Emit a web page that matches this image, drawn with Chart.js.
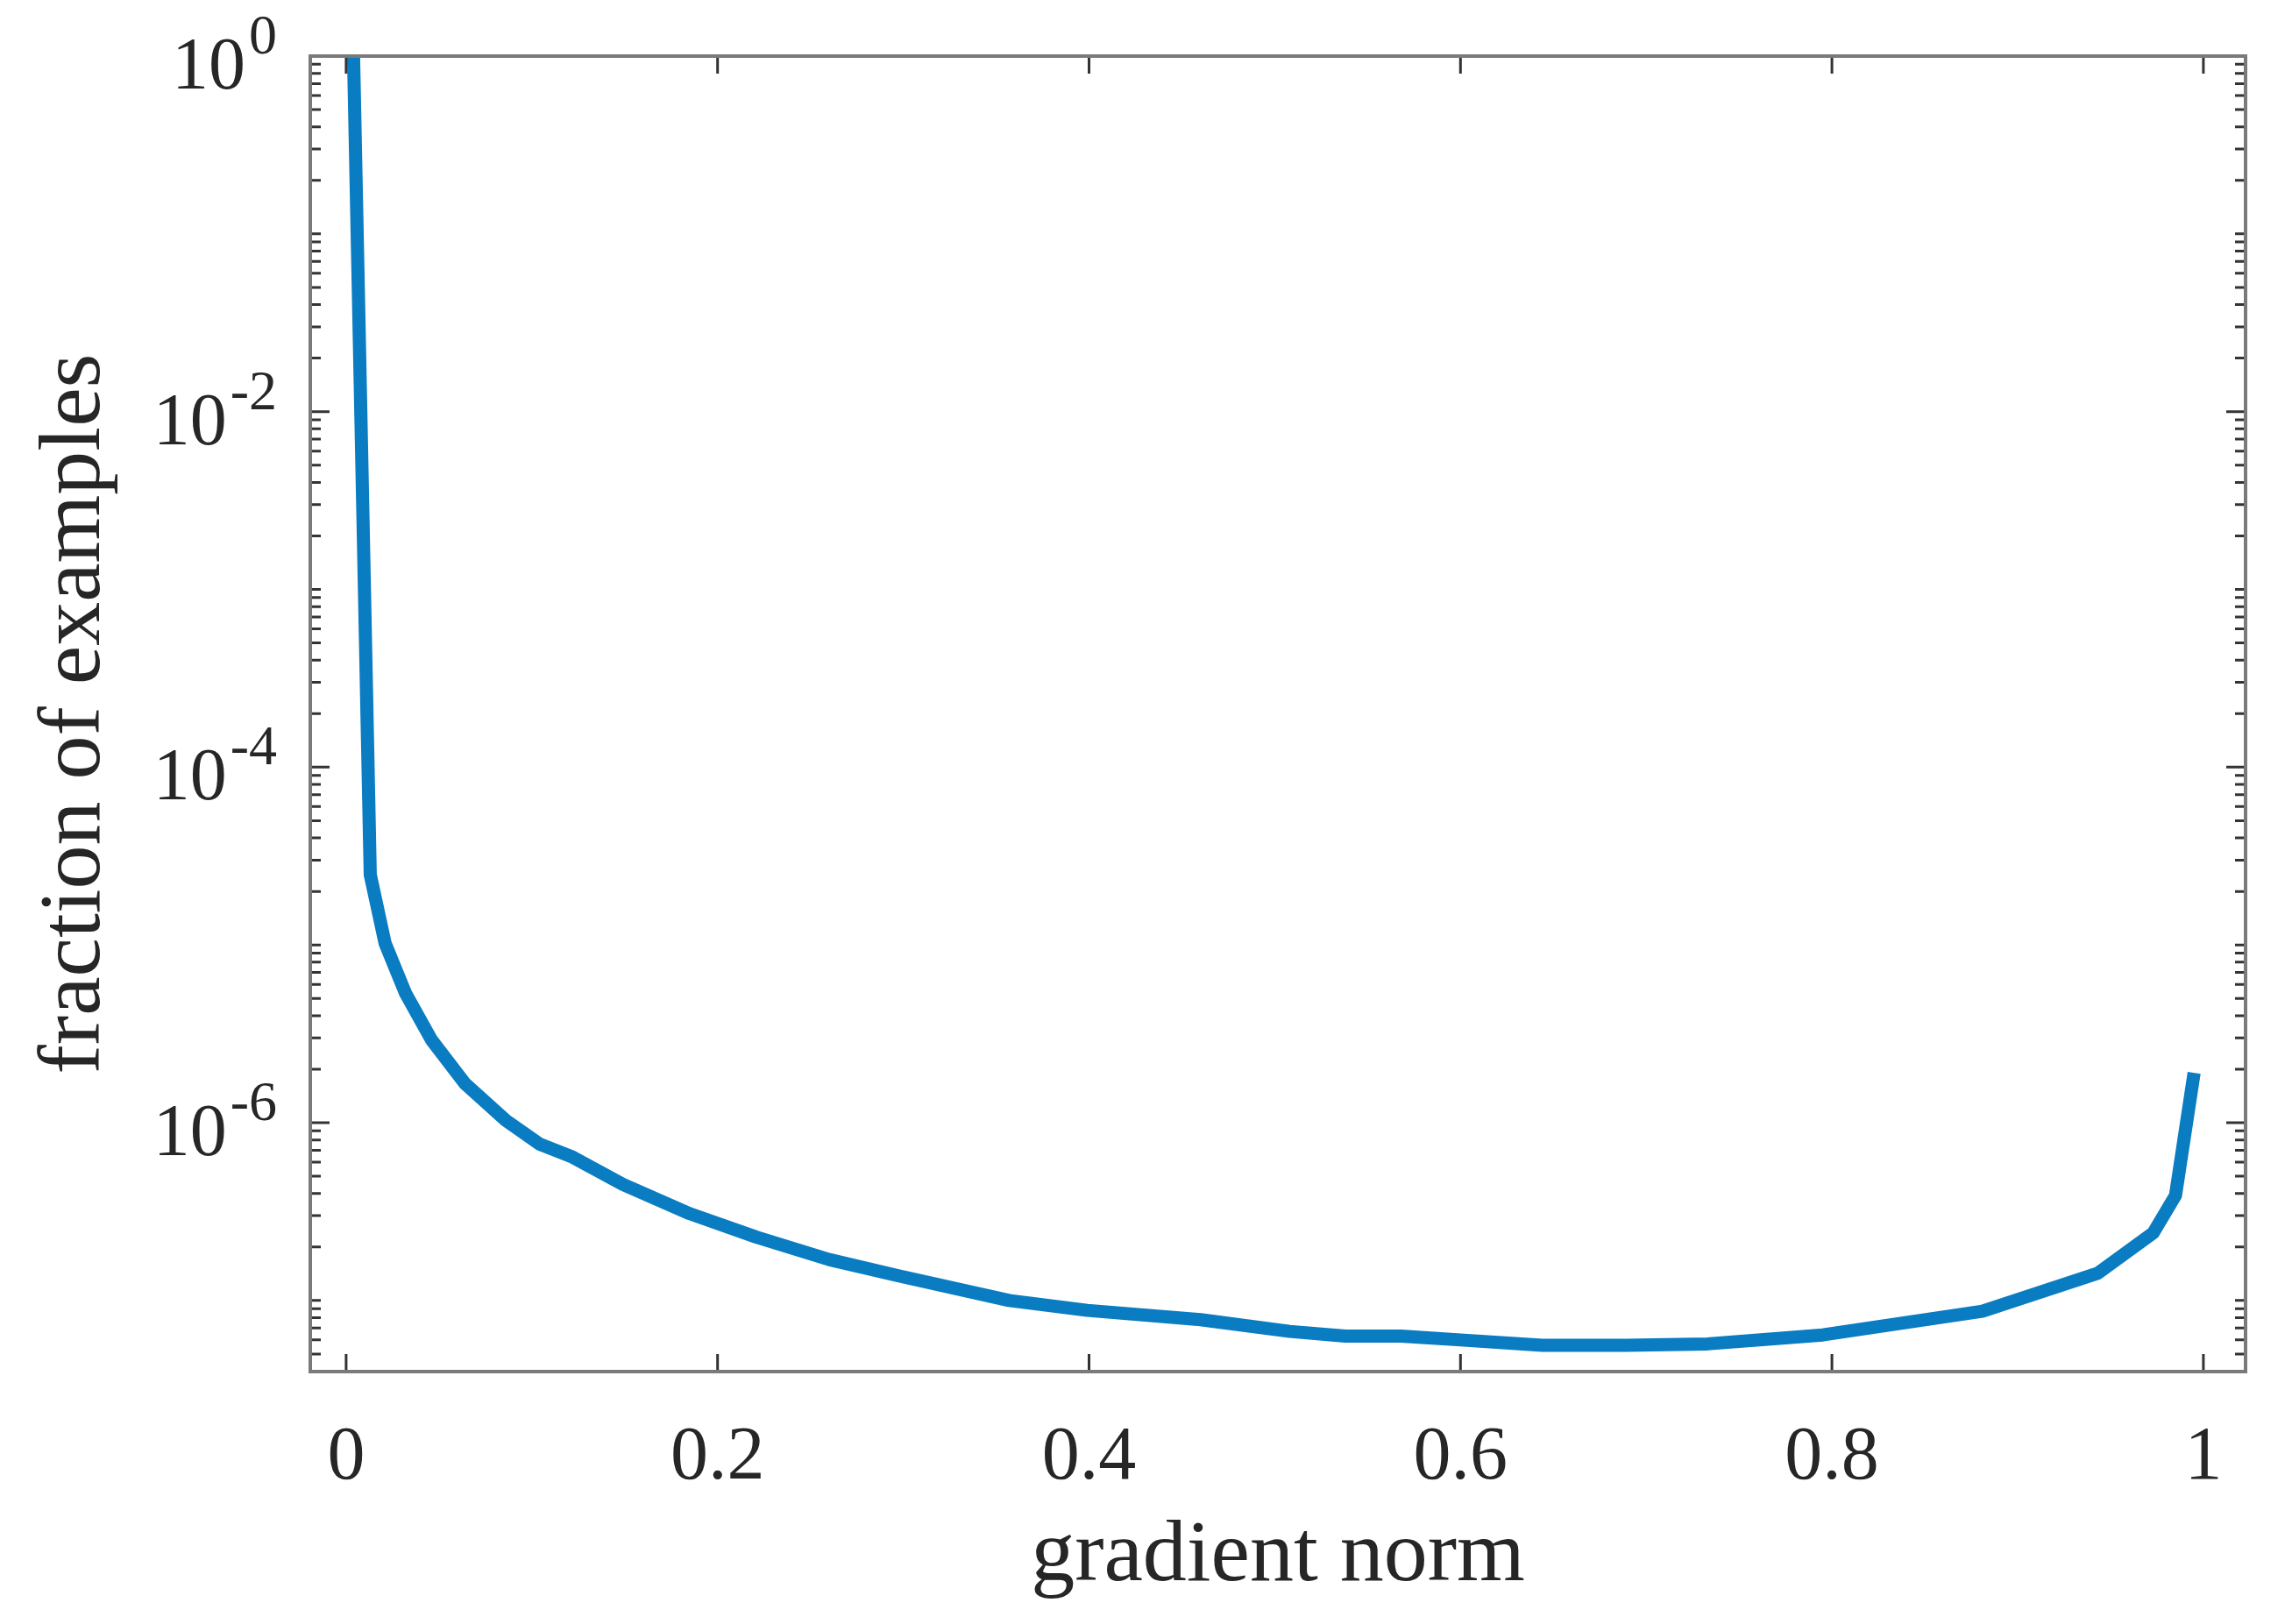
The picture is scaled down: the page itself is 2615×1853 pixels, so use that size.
<!DOCTYPE html>
<html>
<head>
<meta charset="utf-8">
<script src="https://cdn.jsdelivr.net/npm/chart.js@4"></script>
<style>
  html, body { margin: 0; padding: 0; background: #fff; }
  #wrap { width: 2615px; height: 1853px; }
</style>
</head>
<body>
<div id="wrap"><canvas id="normChart" width="2615" height="1853"></canvas></div>
<script>
// values
const gradNorm = [0.004, 0.013, 0.021, 0.032, 0.046, 0.064, 0.086, 0.104, 0.122, 0.149,
                  0.185, 0.221, 0.26, 0.297, 0.357, 0.399, 0.46, 0.508, 0.538, 0.568,
                  0.6, 0.644, 0.689, 0.733, 0.795, 0.881, 0.943, 0.973, 0.985, 0.995];
const fraction = [0.9999, 2.48e-5, 1.02e-5, 5.35e-6, 2.92e-6, 1.66e-6, 1.03e-6, 7.6e-7, 6.4e-7, 4.5e-7,
                  3.08e-7, 2.27e-7, 1.7e-7, 1.38e-7, 1.0e-7, 8.8e-8, 7.8e-8, 6.7e-8, 6.3e-8, 6.3e-8,
                  6.0e-8, 5.6e-8, 5.6e-8, 5.7e-8, 6.4e-8, 8.7e-8, 1.42e-7, 2.4e-7, 3.9e-7, 1.91e-6];

const xTicks = [0, 0.2, 0.4, 0.6, 0.8, 1];
const xTickLabels = ['0', '0.2', '0.4', '0.6', '0.8', '1'];
const yTicks = [1, 1e-2, 1e-4, 1e-6];
const yTickExp = ['0', '-2', '-4', '-6'];
const xTitle = 'gradient norm';
const yTitle = 'fraction of examples';

const serif = '"Liberation Serif", "DejaVu Serif", serif';

// box, inward ticks and labels in the MATLAB look
const matlabAxes = {
    id: 'matlabAxes',
    afterDraw(chart) {
        const ctx = chart.ctx;
        const a = chart.chartArea;
        const xs = chart.scales.x;
        const ys = chart.scales.y;
        ctx.save();

        // ticks
        ctx.strokeStyle = '#333';
        ctx.lineWidth = 3;
        ctx.beginPath();
        xTicks.forEach(function(v) {
            const px = xs.getPixelForValue(v);
            ctx.moveTo(px, a.bottom); ctx.lineTo(px, a.bottom - 20);
            ctx.moveTo(px, a.top); ctx.lineTo(px, a.top + 20);
        });
        for (let k = -8; k <= 0; k++) {
            for (let m = 1; m <= 9; m++) {
                const v = m * Math.pow(10, k);
                if (v < ys.min || v > ys.max) continue;
                const py = ys.getPixelForValue(v);
                const major = (m === 1 && k % 2 === 0);
                const len = major ? 22 : 12;
                ctx.moveTo(a.left, py); ctx.lineTo(a.left + len, py);
                ctx.moveTo(a.right, py); ctx.lineTo(a.right - len, py);
            }
        }
        ctx.stroke();

        // box
        ctx.strokeStyle = '#7a7a7a';
        ctx.lineWidth = 4;
        ctx.strokeRect(a.left, a.top, a.right - a.left, a.bottom - a.top);

        // x tick labels
        ctx.fillStyle = '#262626';
        ctx.font = '86px ' + serif;
        ctx.textAlign = 'center';
        ctx.textBaseline = 'alphabetic';
        xTicks.forEach(function(v, i) {
            ctx.fillText(xTickLabels[i], xs.getPixelForValue(v), 1687);
        });

        // y tick labels: 10 with superscript exponent
        yTicks.forEach(function(v, i) {
            const py = ys.getPixelForValue(v);
            ctx.textAlign = 'right';
            ctx.font = '64px ' + serif;
            const expW = ctx.measureText(yTickExp[i]).width;
            ctx.fillText(yTickExp[i], 316, py - 3);
            ctx.font = '84px ' + serif;
            ctx.fillText('10', 316 - expW - 4, py + 37);
        });

        // axis titles
        ctx.font = '100px ' + serif;
        ctx.textAlign = 'center';
        ctx.fillText(xTitle, (a.left + a.right) / 2, 1803);

        ctx.translate(113, (a.top + a.bottom) / 2);
        ctx.rotate(-Math.PI / 2);
        ctx.textBaseline = 'alphabetic';
        ctx.fillText(yTitle, 0, 0);
        ctx.restore();
    }
};

const ctx = document.getElementById('normChart').getContext('2d');
const normChart = new Chart(ctx, {
    type: 'line',
    data: {
        datasets: [{
            data: gradNorm.map(function(x, i) { return { x: x, y: fraction[i] }; }),
            borderColor: '#0a7cc2',
            borderWidth: 15,
            borderCapStyle: 'butt',
            borderJoinStyle: 'round',
            pointRadius: 0,
            tension: 0,
            fill: false,
            clip: 0
        }]
    },
    options: {
        responsive: false,
        devicePixelRatio: 1,
        animation: false,
        layout: { padding: { left: 354, right: 53, top: 64, bottom: 288 } },
        plugins: { legend: { display: false }, tooltip: { enabled: false } },
        scales: {
            x: { type: 'linear', min: -0.0193, max: 1.0227, display: false },
            y: { type: 'logarithmic', min: Math.pow(10, -7.40), max: 1, display: false }
        }
    },
    plugins: [matlabAxes]
});
</script>
</body>
</html>
